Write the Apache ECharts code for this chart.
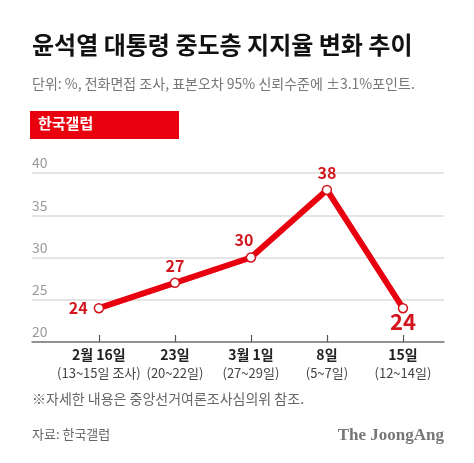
<!DOCTYPE html>
<html>
<head>
<meta charset="utf-8">
<script src="https://cdn.jsdelivr.net/npm/echarts@6/dist/echarts.min.js"></script>
<style>
  html, body { margin: 0; padding: 0; background: #fff; }
  #chart { width: 474px; height: 463px; }
</style>
</head>
<body>
<div id="chart"></div>
<script>
// 조사 시점 (발표일 / 조사기간)
var dates = ['2월 16일', '23일', '3월 1일', '8일', '15일'];
var periods = ['(13~15일 조사)', '(20~22일)', '(27~29일)', '(5~7일)', '(12~14일)'];
// 중도층 지지율 (%)
var support = [24, 27, 30, 38, 24];
var yTicks = [20, 25, 30, 35, 40];

var FONT = '"Noto Sans CJK KR", "Noto Sans", sans-serif';
var RED = '#e8000e';
var LABEL_RED = '#d3141c';

var myChart = echarts.init(document.getElementById('chart'));

var seriesData = [];
for (var i = 0; i < support.length; i++) {
    var item = { value: [i, support[i]] };
    if (i == 0) {
        item.label = { position: 'left', distance: 6 };
    } else if (i == 2) {
        item.label = { position: 'top', offset: [-7, 0] };
    } else if (i == support.length - 1) {
        item.label = { position: 'bottom', distance: -3, fontSize: 22 };
    }
    seriesData.push(item);
}

myChart.setOption({
    backgroundColor: '#fff',
    textStyle: { fontFamily: FONT },
    graphic: [
        {
            type: 'text', left: 32, top: 33,
            style: { text: '윤석열 대통령 중도층 지지율 변화 추이', font: 'bold 24px ' + FONT, fill: '#111' }
        },
        {
            type: 'text', left: 32, top: 77,
            style: { text: '단위: %, 전화면접 조사, 표본오차 95% 신뢰수준에 ±3.1%포인트.', font: '14px ' + FONT, fill: '#777' }
        },
        {
            type: 'rect', shape: { x: 30, y: 111, width: 149, height: 28 },
            style: { fill: RED }
        },
        {
            type: 'text', left: 38, top: 116,
            style: { text: '한국갤럽', font: 'bold 15px ' + FONT, fill: '#fff' }
        },
        {
            type: 'text', left: 32, top: 392,
            style: { text: '※자세한 내용은 중앙선거여론조사심의위 참조.', font: '14px ' + FONT, fill: '#666' }
        },
        {
            type: 'text', left: 32, top: 428,
            style: { text: '자료: 한국갤럽', font: '13px ' + FONT, fill: '#666' }
        },
        {
            type: 'text', right: 30, top: 427,
            style: { text: 'The JoongAng', font: 'bold 17px "Liberation Serif", "DejaVu Serif", serif', fill: '#777' }
        }
    ],
    grid: {
        left: 32,
        right: 30,
        top: 173,
        bottom: 121,
        containLabel: false
    },
    xAxis: {
        type: 'value',
        min: -0.88,
        max: 4.54,
        splitLine: { show: false },
        axisLine: { show: true, lineStyle: { color: '#777', width: 1.5 } },
        axisTick: {
            show: true,
            inside: true,
            length: 7,
            customValues: [0, 1, 2, 3, 4],
            lineStyle: { color: '#555', width: 1.2 }
        },
        axisLabel: {
            customValues: [0, 1, 2, 3, 4],
            margin: 4,
            formatter: function (v) {
                var idx = Math.round(v);
                return '{a|' + dates[idx] + '}\n{b|' + periods[idx] + '}';
            },
            rich: {
                a: { fontFamily: FONT, fontSize: 14, fontWeight: 'bold', color: '#222', lineHeight: 18 },
                b: { fontFamily: FONT, fontSize: 13, color: '#444', lineHeight: 18 }
            }
        }
    },
    yAxis: {
        type: 'value',
        min: yTicks[0],
        max: yTicks[yTicks.length - 1],
        interval: 5,
        axisLine: { show: false },
        axisTick: { show: false },
        splitLine: { show: true, lineStyle: { color: '#dcdcdc', width: 1.5 } },
        axisLabel: {
            inside: true,
            margin: 0,
            verticalAlign: 'bottom',
            padding: [0, 0, 3, 0],
            fontSize: 14,
            color: '#999',
            fontFamily: FONT
        }
    },
    series: [
        {
            type: 'line',
            data: seriesData,
            symbol: 'circle',
            symbolSize: 9,
            lineStyle: { color: RED, width: 6 },
            itemStyle: { color: '#fff', borderColor: LABEL_RED, borderWidth: 1.5 },
            z: 3,
            label: {
                show: true,
                position: 'top',
                distance: 4,
                color: LABEL_RED,
                fontFamily: FONT,
                fontSize: 16,
                fontWeight: 'bold',
                formatter: function (p) { return p.value[1]; }
            },
            emphasis: { disabled: true },
            animation: false
        }
    ]
});
</script>
</body>
</html>
